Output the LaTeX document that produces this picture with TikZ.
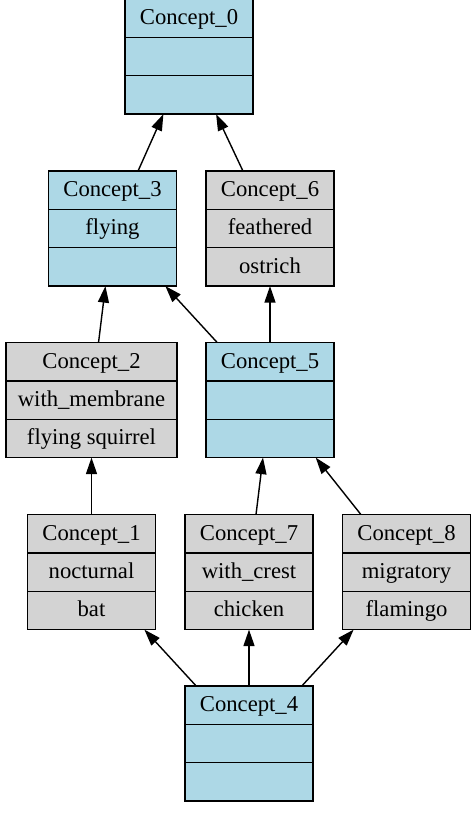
\documentclass[tikz,border=0pt]{standalone}
\usepackage{fontspec}
\setmainfont{Liberation Serif}
\usetikzlibrary{shapes.multipart,arrows.meta}
\definecolor{cblue}{RGB}{173,216,230}
\definecolor{cgray}{RGB}{211,211,211}
\newcommand{\rowstrut}{\rule[-0.24cm]{0pt}{0.74cm}}
\begin{document}
\begin{tikzpicture}[concept/.style={rectangle split,rectangle split parts=3,draw,line width=0.8pt,inner ysep=0pt,inner xsep=0.24cm,outer sep=0pt,minimum width=2.56cm,font=\fontsize{12.9}{15}\selectfont},link/.style={line width=0.8pt,-{Triangle[length=0.33cm,width=0.22cm]}}]
\useasboundingbox (0,0) rectangle (9.48,-16.26);
\node[concept,fill=cblue] (c0) at (3.78,-1.13) {Concept\_0\rowstrut\nodepart{two}\rowstrut\nodepart{three}\rowstrut};
\node[concept,fill=cblue] (c3) at (2.25,-4.57) {Concept\_3\rowstrut\nodepart{two}flying\rowstrut\nodepart{three}\rowstrut};
\node[concept,fill=cgray] (c6) at (5.40,-4.57) {Concept\_6\rowstrut\nodepart{two}feathered\rowstrut\nodepart{three}ostrich\rowstrut};
\node[concept,fill=cgray] (c2) at (1.83,-8.00) {Concept\_2\rowstrut\nodepart{two}with\_membrane\rowstrut\nodepart{three}flying squirrel\rowstrut};
\node[concept,fill=cblue] (c5) at (5.40,-8.00) {Concept\_5\rowstrut\nodepart{two}\rowstrut\nodepart{three}\rowstrut};
\node[concept,fill=cgray] (c1) at (1.83,-11.44) {Concept\_1\rowstrut\nodepart{two}nocturnal\rowstrut\nodepart{three}bat\rowstrut};
\node[concept,fill=cgray] (c7) at (4.98,-11.44) {Concept\_7\rowstrut\nodepart{two}with\_crest\rowstrut\nodepart{three}chicken\rowstrut};
\node[concept,fill=cgray] (c8) at (8.13,-11.44) {Concept\_8\rowstrut\nodepart{two}migratory\rowstrut\nodepart{three}flamingo\rowstrut};
\node[concept,fill=cblue] (c4) at (4.98,-14.87) {Concept\_4\rowstrut\nodepart{two}\rowstrut\nodepart{three}\rowstrut};
\draw[link] (c3) -- (c0);
\draw[link] (c6) -- (c0);
\draw[link] (c2) -- (c3);
\draw[link] (c5) -- (c3);
\draw[link] (c5) -- (c6);
\draw[link] (c1) -- (c2);
\draw[link] (c7) -- (c5);
\draw[link] (c8) -- (c5);
\draw[link] (c4) -- (c1);
\draw[link] (c4) -- (c7);
\draw[link] (c4) -- (c8);
\end{tikzpicture}
\end{document}
